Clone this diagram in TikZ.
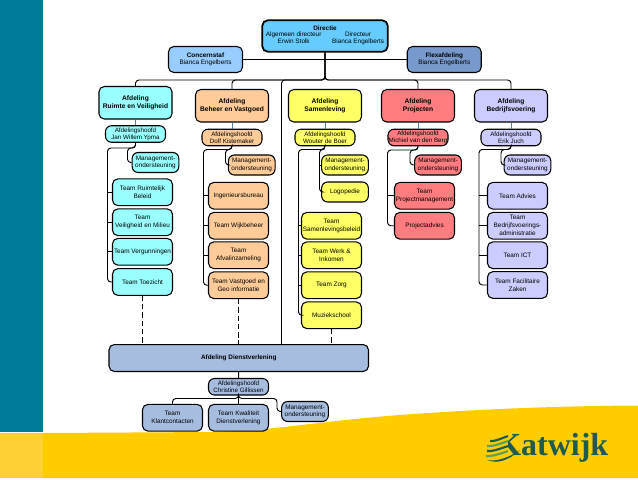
\documentclass[tikz,border=0pt]{standalone}
\usepackage{fontspec}
\setmainfont{Liberation Sans}
\newfontfamily\logofont{Liberation Serif}
\definecolor{tealbar}{HTML}{007A99}
\definecolor{sunband}{HTML}{FFCC00}
\definecolor{sunleft}{HTML}{FFD033}
\definecolor{dirfill}{HTML}{66CCFF}
\definecolor{staffill}{HTML}{99CCFF}
\definecolor{flexfill}{HTML}{7799CC}
\definecolor{ruimtefill}{HTML}{99FFFF}
\definecolor{beheerfill}{HTML}{FFCC99}
\definecolor{samenfill}{HTML}{FFFF66}
\definecolor{projfill}{HTML}{FF7C80}
\definecolor{bedrfill}{HTML}{CCCCFF}
\definecolor{dienstfill}{HTML}{A6BDE0}
\definecolor{logogreen}{HTML}{1F5A50}
\definecolor{logolight}{HTML}{5FA052}
\definecolor{stemline}{HTML}{4D7F9F}
\tikzset{
  orgbox/.style={draw, line width=0.8pt, rounded corners=4pt, inner sep=0pt, align=center,
    font=\fontsize{4.8}{6}\selectfont},
  stafbox/.style={orgbox, minimum width=55.5pt, minimum height=19.5pt, font=\fontsize{4.8}{5.3}\selectfont},
  afdbox/.style={orgbox, minimum width=54.75pt, minimum height=24.4pt, font=\fontsize{5}{6}\selectfont\bfseries},
  hoofdbox/.style={orgbox, rounded corners=4.5pt, minimum width=45pt, minimum height=12.4pt, font=\fontsize{4.7}{5.2}\selectfont},
  mgmtbox/.style={orgbox, rounded corners=4.5pt, minimum width=35pt, minimum height=15pt, font=\fontsize{4.8}{5.5}\selectfont},
  teambox/.style={orgbox, minimum width=45pt, minimum height=20pt},
  conn/.style={line width=0.7pt, rounded corners=2.5pt},
  stem/.style={line width=0.6pt, stemline},
  dashlink/.style={line width=0.7pt, dash pattern=on 4pt off 2.2pt}
}
\begin{document}
\begin{tikzpicture}[x=0.75pt,y=-0.75pt]
  \useasboundingbox (0,0) rectangle (638,479);
  % background
  \fill[tealbar] (0,0) rectangle (43,432);
  \fill[sunband] (43,433) -- (215,432) .. controls (270,431) and (320,421) .. (400,415)
    .. controls (480,409) and (560,406) .. (638,405.5) -- (638,478) -- (43,478) -- cycle;
  \fill[sunleft] (0,432.5) rectangle (43,478);
  % top level
  \node[orgbox, draw=black, line width=1.3pt, fill=dirfill, minimum width=94pt, minimum height=23.5pt] (directie) at (325,36) {\textbf{Directie}\\[-0.6pt]%
    \begin{tabular}{@{}c@{\hspace{8pt}}c@{}}Algemeen directeur & Directeur\\[-0.4pt] Erwin Stolk & Bianca Engelberts\end{tabular}};
  \node[stafbox, fill=staffill] (staf) at (205.5,59.5) {\textbf{Concernstaf}\\Bianca Engelberts};
  \node[stafbox, fill=flexfill] (flex) at (444.25,59.5) {\textbf{Flexafdeling}\\Bianca Engelberts};
  \node[afdbox, fill=ruimtefill] (ruimte) at (135.5,102.75) {Afdeling\\Ruimte en Veiligheid};
  \node[afdbox, fill=beheerfill] (beheer) at (232,105.75) {Afdeling\\Beheer en Vastgoed};
  \node[afdbox, fill=samenfill] (samen) at (325,105.75) {Afdeling\\Samenleving};
  \node[afdbox, fill=projfill] (proj) at (418,105.75) {Afdeling\\Projecten};
  \node[afdbox, fill=bedrfill] (bedr) at (511,105.75) {Afdeling\\Bedrijfsvoering};
  % afdelingshoofden
  \node[hoofdbox, fill=ruimtefill] (hfdruimte) at (135.5,134) {Afdelingshoofd\\Jan Willem Ypma};
  \node[hoofdbox, fill=beheerfill] (hfdbeheer) at (232,137.5) {Afdelingshoofd\\Dolf Kistemaker};
  \node[hoofdbox, fill=samenfill] (hfdsamen) at (325,137.5) {Afdelingshoofd\\Wouter de Boer};
  \node[hoofdbox, fill=projfill] (hfdproj) at (418,137.5) {Afdelingshoofd\\Michiel van den Berg};
  \node[hoofdbox, fill=bedrfill] (hfdbedr) at (511,137.5) {Afdelingshoofd\\Erik Juch};
  % management
  \node[mgmtbox, fill=ruimtefill] (mgtruimte) at (155.5,162.5) {Management-\\ondersteuning};
  \node[mgmtbox, fill=beheerfill] (mgtbeheer) at (251.75,165) {Management-\\ondersteuning};
  \node[mgmtbox, fill=samenfill] (mgtsamen) at (345,165) {Management-\\ondersteuning};
  \node[mgmtbox, fill=projfill] (mgtproj) at (438,165) {Management-\\ondersteuning};
  \node[mgmtbox, fill=bedrfill] (mgtbedr) at (527.5,165) {Management-\\ondersteuning};
  % teams
  \node[teambox, fill=ruimtefill] (ruimte1) at (142.5,192.25) {Team Ruimtelijk\\Beleid};
  \node[teambox, fill=ruimtefill] (ruimte2) at (142.5,222.25) {Team\\Veiligheid en Milieu};
  \node[teambox, fill=ruimtefill] (ruimte3) at (142.5,251.75) {Team Vergunningen};
  \node[teambox, fill=ruimtefill] (ruimte4) at (142.5,282) {Team Toezicht};
  \node[teambox, fill=beheerfill] (beheer1) at (238.5,195.75) {Ingenieursbureau};
  \node[teambox, fill=beheerfill] (beheer2) at (238.5,225.75) {Team Wijkbeheer};
  \node[teambox, fill=beheerfill] (beheer3) at (238.5,255.25) {Team\\Afvalinzameling};
  \node[teambox, fill=beheerfill] (beheer4) at (238.5,285.25) {Team Vastgoed en\\Geo informatie};
  \node[mgmtbox, fill=samenfill] (logo1) at (345,192) {Logopedie};
  \node[teambox, fill=samenfill] (samen1) at (331.5,225.75) {Team\\Samenlevingsbeleid};
  \node[teambox, fill=samenfill] (samen2) at (331.5,255.25) {Team Werk \&\\Inkomen};
  \node[teambox, fill=samenfill] (samen3) at (331.5,285.25) {Team Zorg};
  \node[teambox, fill=samenfill] (samen4) at (331.5,315.25) {Muziekschool};
  \node[teambox, fill=projfill] (proj1) at (424.5,195.75) {Team\\Projectmanagement};
  \node[teambox, fill=projfill] (proj2) at (424.5,225.75) {Projectadvies};
  \node[teambox, fill=bedrfill] (bedr1) at (517.5,195.75) {Team Advies};
  \node[teambox, fill=bedrfill] (bedr2) at (517.5,225.75) {Team\\Bedrijfsvoerings-\\administratie};
  \node[teambox, fill=bedrfill] (bedr3) at (517.5,255.25) {Team ICT};
  \node[teambox, fill=bedrfill] (bedr4) at (517.5,285) {Team Facilitaire\\Zaken};
  % dienstverlening
  \node[orgbox, fill=dienstfill, minimum width=194.6pt, minimum height=20.2pt] (dienst) at (238.75,358) {\textbf{Afdeling Dienstverlening}};
  \node[hoofdbox, fill=dienstfill] (hfddienst) at (238.5,386.75) {Afdelingshoofd\\Christine Gillissen};
  \node[teambox, fill=dienstfill] (klant) at (172.5,417.75) {Team\\Klantcontacten};
  \node[teambox, fill=dienstfill] (kwal) at (238.5,417.75) {Team Kwaliteit\\Dienstverlening};
  \node[mgmtbox, fill=dienstfill] (mgtdienst) at (305,411.5) {Management-\\ondersteuning};
  % help points
  \coordinate (busmid) at (325,80);
  \coordinate (dienstin) at (281.5,344.5);
  \coordinate (bendruimte) at (107.5,148);
  \coordinate (bendbeheer) at (203.5,149.5);
  \coordinate (bendsamen) at (298.5,149.5);
  \coordinate (bendproj) at (387.5,150);
  \coordinate (bendbedr) at (479,149.5);
  % staff and bus
  \draw[conn] (staf) -- (flex);
  \draw[conn] (directie.south) -- (busmid) -| (ruimte.north);
  \draw[conn] (directie.south) -- (busmid) -| (beheer.north);
  \draw[conn] (directie.south) -- (busmid) -| (dienstin);
  \draw[conn] (directie.south) -- (busmid) -| (proj.north);
  \draw[conn] (directie.south) -- (busmid) -| (bedr.north);
  % stems
  \foreach \afd/\hfd in {ruimte/hfdruimte,beheer/hfdbeheer,samen/hfdsamen,proj/hfdproj,bedr/hfdbedr}
    \draw[stem] (\afd) -- (\hfd);
  % brackets to the teams
  \draw[conn] (hfdruimte.south) |- (bendruimte) |- (ruimte4.west);
  \foreach \t in {ruimte1,ruimte2,ruimte3}
    \draw[conn] (bendruimte |- \t.west) -- (\t.west);
  \draw[conn] (hfdruimte.south) |- (127.5,148) |- (mgtruimte.west);
  \draw[conn] (hfdbeheer.south) |- (bendbeheer) |- (beheer4.west);
  \foreach \t in {beheer1,beheer2,beheer3}
    \draw[conn] (bendbeheer |- \t.west) -- (\t.west);
  \draw[conn] (hfdbeheer.south) |- (225.5,149.5) |- (mgtbeheer.west);
  \draw[conn] (hfdsamen.south) |- (bendsamen) |- (samen4.west);
  \foreach \t in {samen1,samen2,samen3}
    \draw[conn] (bendsamen |- \t.west) -- (\t.west);
  \draw[conn] (hfdsamen.south) |- (319.5,149.5) |- (logo1.west);
  \draw[conn] (319.5,165) -- (mgtsamen.west);
  \draw[conn] (hfdproj.south) |- (bendproj) |- (proj2.west);
  \draw[conn] (bendproj |- proj1.west) -- (proj1.west);
  \draw[conn] (hfdproj.south) |- (410,150) |- (mgtproj.west);
  \draw[conn] (hfdbedr.south) |- (bendbedr) |- (bedr4.west);
  \foreach \t in {bedr1,bedr2,bedr3}
    \draw[conn] (bendbedr |- \t.west) -- (\t.west);
  \draw[conn] (hfdbedr.south) |- (501,149.5) |- (mgtbedr.west);
  % dashed links
  \draw[dashlink] (ruimte4.south) -- (ruimte4.south |- dienst.north);
  \draw[dashlink] (beheer4.south) -- (beheer4.south |- dienst.north);
  \draw[dashlink] (samen4.south) -- (samen4.south |- dienst.north);
  % dienstverlening links
  \draw[conn] (dienst) -- (hfddienst);
  \draw[conn] (hfddienst) -- (kwal);
  \draw[conn] (hfddienst.south) |- (172.5,398.5) -- (klant.north);
  \draw[conn] (hfddienst.south) |- (277,398.5) |- (mgtdienst.west);
  % logo
  \node[anchor=base west, inner sep=0pt, text=logogreen, font=\logofont\fontsize{24}{24}\selectfont\bfseries] (logo) at (496,455) {Katwijk};
  \fill[sunband] (494,432) rectangle (508,458);
  \foreach \y/\w/\c in {438/18/logogreen,443/21/logolight,448/21/logogreen,453/22/logolight}
    \draw[\c, line width=1.6pt] (487+21-\w,\y+3) .. controls (490+21-\w,\y+4) and (500,\y+1) .. (508,\y-2);
  \fill[logogreen] (487,460) .. controls (497,464) and (508,461) .. (520,450) .. controls (510,457) and (497,462) .. (487,460) -- cycle;
\end{tikzpicture}
\end{document}
